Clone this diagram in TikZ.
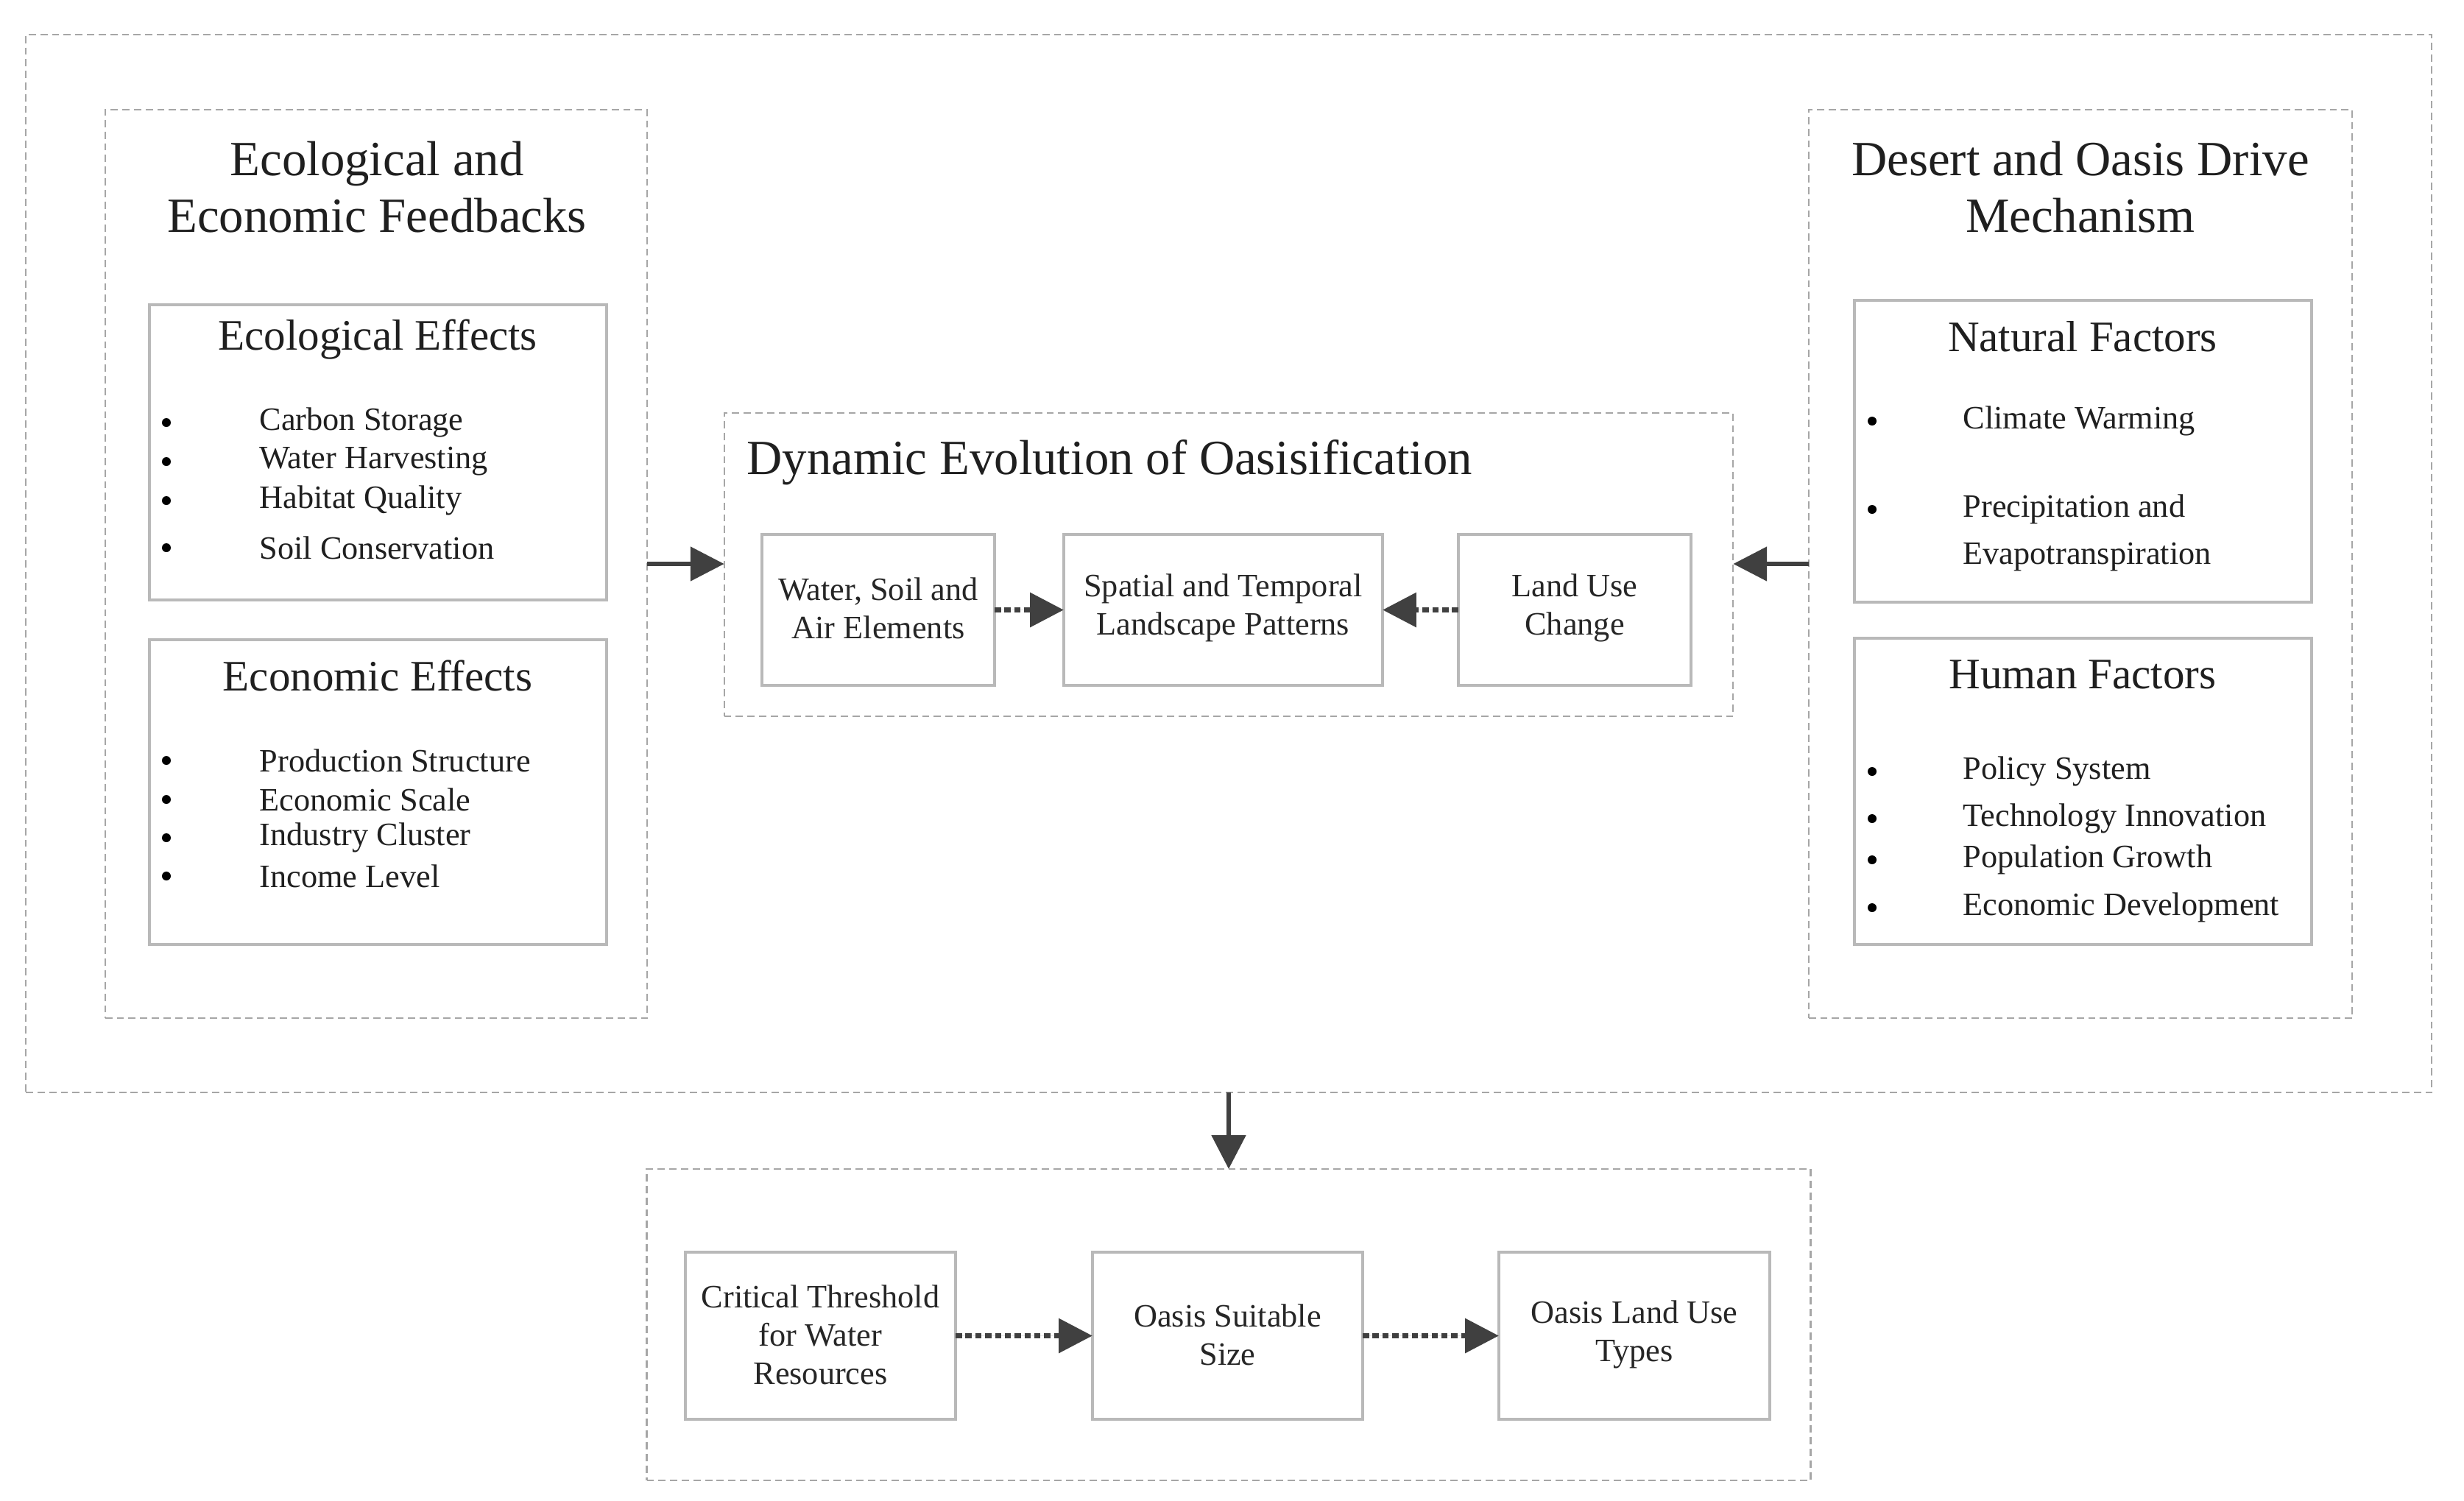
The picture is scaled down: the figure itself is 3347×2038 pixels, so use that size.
\documentclass[tikz,border=0pt]{standalone}
\usepackage{fontspec}
\setmainfont{Liberation Serif}
\usetikzlibrary{arrows.meta}
\begin{document}
\begin{tikzpicture}[x=0.01cm,y=-0.01cm,
  dbox/.style={draw=gray!70, line width=0.6pt, dash pattern=on 2.8pt off 1.7pt, inner sep=0pt, outer sep=0pt},
  sbox/.style={draw=gray!55, line width=1.1pt, inner sep=0pt, outer sep=0pt, fill=white},
  ttl/.style={font=\fontsize{19}{21.9}\selectfont, align=center, text=black!88},
  hd/.style={font=\fontsize{16.8}{20}\selectfont, text=black!88},
  itm/.style={font=\fontsize{12.6}{15}\selectfont, anchor=west, inner sep=0pt, text=black!88},
  bul/.style={circle, fill=black, draw=none, minimum size=0.12cm, inner sep=0pt},
  btxt/.style={font=\fontsize{12.6}{14.8}\selectfont, align=center, text=black!85},
  arr/.style={-{Triangle[length=13pt,width=13pt]}, line width=1.6pt, draw=black!75, fill=black!75},
  darr/.style={arr, line width=2pt, dash pattern=on 2.4pt off 1.4pt}]
\useasboundingbox (0,0) rectangle (3347,2038);

% containers
\node[dbox, minimum width=32.66cm, minimum height=14.37cm] (outer) at (1669,765.5) {};
\node[dbox, minimum width=7.36cm, minimum height=12.34cm] (left) at (511,766) {};
\node[dbox, minimum width=13.70cm, minimum height=4.12cm] (mid) at (1669,767) {};
\node[dbox, minimum width=7.38cm, minimum height=12.34cm] (right) at (2826,766) {};
\node[dbox, minimum width=15.80cm, minimum height=4.23cm] (bottom) at (1669,1799.5) {};

% left side
\node[ttl] (lt) at (512,254) {Ecological and\\Economic Feedbacks};
\node[sbox, minimum width=6.21cm, minimum height=4.01cm] (eco) at (513.5,614.5) {};
\node[sbox, minimum width=6.21cm, minimum height=4.14cm] (econ) at (513.5,1076) {};
\node[hd] (ecoh) at (513,461) {Ecological Effects};
\node[hd] (econh) at (513,918) {Economic Effects};
\node[bul] (b1) at (226,574) {}; \node[itm] (i1) at (352,574) {Carbon Storage};
\node[bul] (b2) at (226,627) {}; \node[itm] (i2) at (352,627) {Water Harvesting};
\node[bul] (b3) at (226,680) {}; \node[itm] (i3) at (352,680) {Habitat Quality};
\node[bul] (b4) at (226,744) {}; \node[itm] (i4) at (352,744) {Soil Conservation};
\node[bul] (b5) at (226,1033) {}; \node[itm] (i5) at (352,1033) {Production Structure};
\node[bul] (b6) at (226,1086) {}; \node[itm] (i6) at (352,1086) {Economic Scale};
\node[bul] (b7) at (226,1138) {}; \node[itm] (i7) at (352,1138) {Industry Cluster};
\node[bul] (b8) at (226,1190) {}; \node[itm] (i8) at (352,1190) {Income Level};

% middle
\node[ttl, anchor=west, inner sep=0pt] (mt) at (1014,628) {Dynamic Evolution of Oasisification};
\node[sbox, minimum width=3.16cm, minimum height=2.05cm] (water) at (1193,828.5) {};
\node[btxt] (watert) at (1193,826) {Water, Soil and\\Air Elements};
\node[sbox, minimum width=4.33cm, minimum height=2.05cm] (spat) at (1661.5,828.5) {};
\node[btxt] (spatt) at (1661.5,826) {Spatial and Temporal\\Landscape Patterns};
\node[sbox, minimum width=3.16cm, minimum height=2.05cm] (land) at (2139,828.5) {};
\node[btxt] (landt) at (2139,826) {Land Use\\Change};

% right side
\node[ttl] (rt) at (2826,254) {Desert and Oasis Drive\\Mechanism};
\node[sbox, minimum width=6.21cm, minimum height=4.10cm] (nat) at (2829.5,613) {};
\node[sbox, minimum width=6.21cm, minimum height=4.16cm] (hum) at (2829.5,1075) {};
\node[hd] (nath) at (2829,457) {Natural Factors};
\node[hd] (humh) at (2829,916) {Human Factors};
\node[bul] (c1) at (2543,572) {}; \node[itm] (j1) at (2666,572) {Climate Warming};
\node[bul] (c2) at (2543,692) {}; \node[itm] (j2) at (2666,692) {Precipitation and};
\node[itm] (j2b) at (2666,757) {Evapotranspiration};
\node[bul] (c3) at (2543,1048) {}; \node[itm] (j3) at (2666,1048) {Policy System};
\node[bul] (c4) at (2543,1112) {}; \node[itm] (j4) at (2666,1112) {Technology Innovation};
\node[bul] (c5) at (2543,1168) {}; \node[itm] (j5) at (2666,1168) {Population Growth};
\node[bul] (c6) at (2543,1233) {}; \node[itm] (j6) at (2666,1233) {Economic Development};

% bottom
\node[sbox, minimum width=3.67cm, minimum height=2.27cm] (crit) at (1114.5,1814.5) {};
\node[btxt] (critt) at (1114.5,1813) {Critical Threshold\\for Water\\Resources};
\node[sbox, minimum width=3.67cm, minimum height=2.27cm] (suit) at (1667.5,1814.5) {};
\node[btxt] (suitt) at (1667.5,1813) {Oasis Suitable\\Size};
\node[sbox, minimum width=3.68cm, minimum height=2.27cm] (types) at (2220,1814.5) {};
\node[btxt] (typest) at (2220,1813) {Oasis Land Use\\Types};

% connectors
\draw[arr] (left.east) -- (left.east -| mid.west);
\draw[arr] (right.west) -- (right.west -| mid.east);
\draw[arr] (outer.south) -- (bottom.north);
\draw[darr] (water.east) -- (spat.west);
\draw[darr] (land.west) -- (spat.east);
\draw[darr] (crit.east) -- (suit.west);
\draw[darr] (suit.east) -- (types.west);
\end{tikzpicture}
\end{document}
